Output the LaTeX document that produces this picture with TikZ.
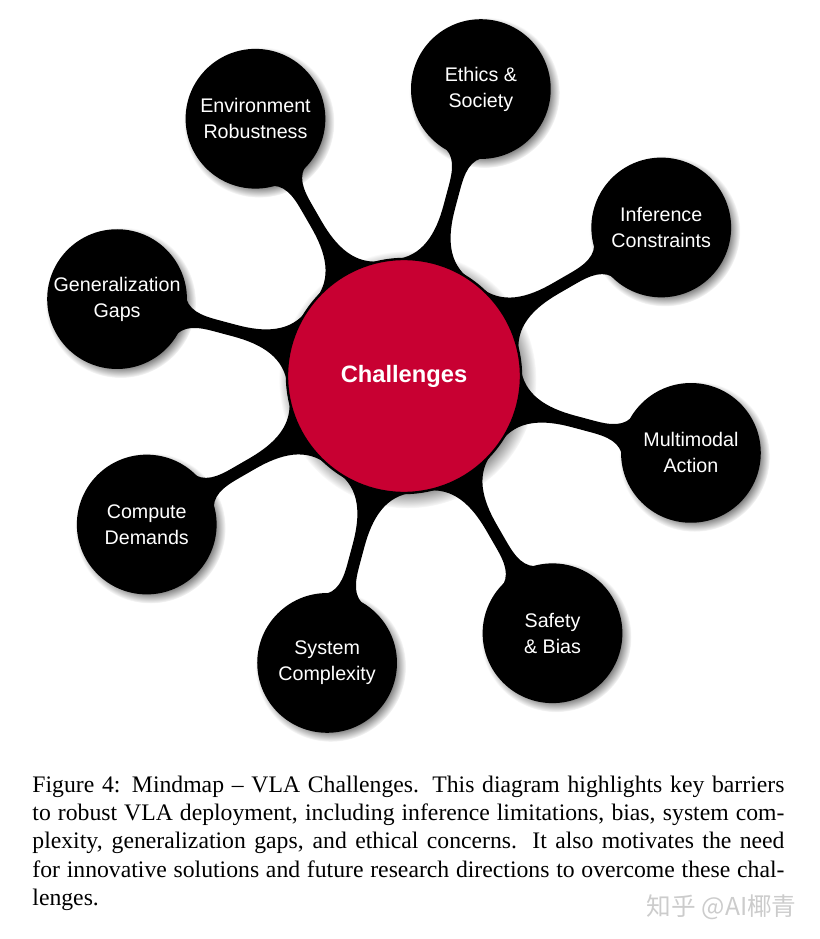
\documentclass[tikz,border=0pt]{standalone}
\usepackage{fontspec}
\setmainfont{Liberation Serif}
\setsansfont{Liberation Sans}
\newfontfamily\cjk{Noto Sans CJK SC}
\usetikzlibrary{mindmap,shadows}
\definecolor{chalred}{RGB}{200,0,50}
\tikzset{capt/.style={inner sep=0,font=\rmfamily\fontsize{10}{12}\selectfont,text width=317.3pt,align=justify},
  rootbox/.style={fill=chalred,draw=black,line width=1pt,minimum size=3.47cm,text width={},font=\sffamily\bfseries\fontsize{10}{12}\selectfont}}

\begin{document}
\begin{tikzpicture}
\useasboundingbox(-5.991,-8.349)rectangle(6.155,5.576);
\begin{scope}[mindmap,grow cyclic,concept color=black,text=white,
  every node/.style={concept,circular drop shadow,execute at begin node=\hskip0pt},
  level 1 concept/.append style={minimum size=2.03cm,inner sep=0pt,text width={},align=center,font=\sffamily\fontsize{8.3}{11}\selectfont},
  level 1/.append style={level distance=4.405cm,sibling angle=45}]
\node(root)[concept,rootbox]{Challenges}[clockwise from=75]
  child{node(ethics){Ethics \&\\Society}}
  child{node(infer){Inference\\Constraints}}
  child{node(multi){Multimodal\\Action}}
  child{node(safety){Safety\\\& Bias}}
  child{node(system){System\\Complexity}}
  child{node(compute){Compute\\Demands}}
  child{node(general){Generalization\\Gaps}}
  child{node(env){Environment\\Robustness}};
\end{scope}
% caption and mark
\node(capt)[capt,anchor=base west]at(-5.517,-6.169){Figure 4: Mindmap -- VLA Challenges. This diagram highlights key barriers\linebreak to robust VLA deployment, including inference limitations, bias, system com-\linebreak plexity, generalization gaps, and ethical concerns. It also motivates the need\linebreak for innovative solutions and future research directions to overcome these chal-\linebreak lenges.};
\node(mark)[anchor=base east,inner sep=0,text=gray!40,font=\cjk\fontsize{10.4}{12}\selectfont]at(5.828,-7.993){知乎 @AI椰青};
\end{tikzpicture}
\end{document}
